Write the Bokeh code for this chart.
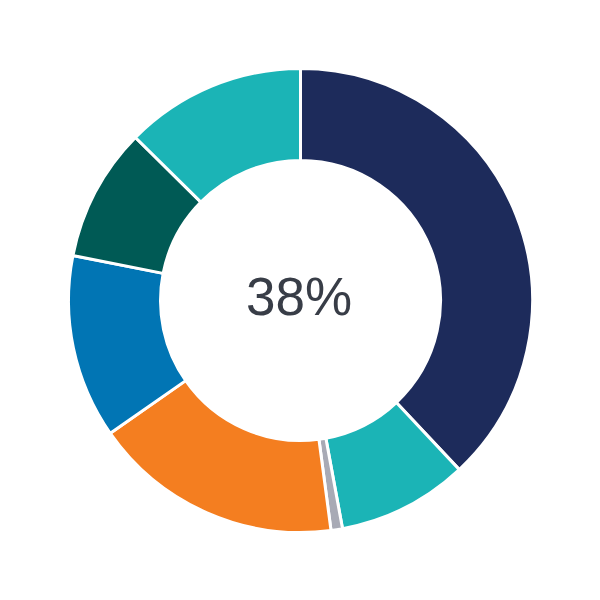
from math import pi

from bokeh.plotting import figure
from bokeh.core.properties import value
from bokeh.embed import file_html
from bokeh.resources import INLINE

# slice shares in percent, clockwise from 12 o'clock
segments = ["Segment 1", "Segment 2", "Segment 3", "Segment 4", "Segment 5", "Segment 6", "Segment 7"]
shares = [38.0, 9.1, 0.8, 17.4, 12.8, 9.3, 12.6]
colors = ["#1d2b5b", "#1bb4b6", "#a8aab5", "#f47e20", "#0175b4", "#005a55", "#1bb4b6"]
center_label = "38%"

total = sum(shares)
starts, ends = [], []
acc = 0.0
for s in shares:
    starts.append(pi / 2 - 2 * pi * acc / total)
    acc += s
    ends.append(pi / 2 - 2 * pi * acc / total)

# donut centred at page (300, 300)
p = figure(width=584, height=584, x_range=(-300, 284), y_range=(-284, 300),
           output_backend="svg", toolbar_location=None, min_border=0)
p.axis.visible = False
p.grid.visible = False
p.outline_line_color = None

p.annular_wedge(x=0, y=0, inner_radius=140, outer_radius=232,
                start_angle=starts, end_angle=ends, direction="clock",
                fill_color=colors, line_color="white", line_width=3)

p.text(x=[-1.5], y=[4], text=[center_label], text_align="center", text_baseline="middle",
       text_font=value("Liberation Sans"), text_font_size="53px", text_color="#383d47")

open("out.html", "w").write(file_html(p, INLINE))
